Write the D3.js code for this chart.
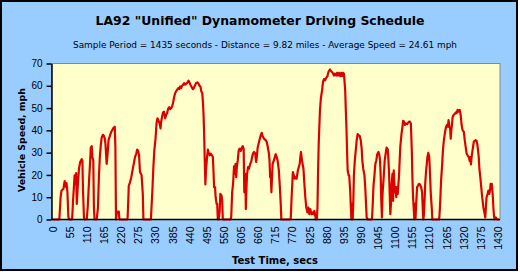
<!DOCTYPE html>
<html><head><meta charset="utf-8">
<script src="https://cdn.jsdelivr.net/npm/d3@7/dist/d3.min.js"></script>
<style>body{margin:0;background:#fff;overflow:hidden}</style>
</head><body><svg id="c" width="520" height="272"></svg>
<script>
const times = [0,22,26,29,35,39,42,45,48,51,54,63,66,71,74,76,78,81,85,89,94,96,98,101,103,110,113,117,121,123,126,128,131,133,135,142,146,149,152,155,158,162,165,168,170,174,177,180,184,189,195,200,202,204,207,213,215,241,243,245,249,253,256,259,262,265,269,272,275,278,281,286,290,292,316,318,321,324,327,331,334,337,340,344,347,349,352,355,358,362,365,368,371,375,378,381,384,387,391,394,397,400,404,407,410,413,416,420,423,426,429,432,437,440,443,447,451,454,457,461,466,469,472,475,478,481,483,485,487,489,491,493,496,499,502,505,508,512,515,517,519,522,524,527,529,531,534,537,539,543,545,547,571,574,577,580,583,585,588,590,592,595,598,601,605,608,611,614,616,619,621,623,625,628,631,635,638,641,644,647,651,654,656,659,662,666,669,672,675,679,682,685,688,691,695,697,699,701,703,705,707,711,714,717,720,723,727,730,733,735,765,768,772,775,778,781,784,788,791,794,796,798,800,803,806,809,812,815,819,822,825,828,832,835,838,841,844,846,849,851,853,855,857,859,862,866,869,872,875,879,883,887,891,896,900,904,907,911,914,917,920,924,927,930,933,936,940,942,944,946,948,951,953,956,958,960,962,964,966,968,971,974,977,980,983,987,990,993,995,998,1002,1005,1007,1009,1012,1026,1028,1031,1034,1037,1040,1043,1047,1050,1052,1054,1056,1058,1060,1063,1065,1067,1070,1073,1077,1079,1081,1083,1085,1087,1089,1092,1094,1096,1098,1100,1102,1104,1106,1109,1111,1113,1115,1117,1119,1121,1124,1126,1129,1132,1135,1139,1142,1145,1148,1151,1154,1156,1158,1160,1162,1164,1166,1168,1171,1174,1177,1180,1184,1187,1189,1191,1193,1195,1197,1200,1202,1204,1207,1210,1212,1215,1218,1220,1242,1245,1248,1251,1254,1257,1261,1264,1267,1270,1272,1275,1277,1279,1281,1283,1285,1288,1292,1295,1298,1301,1304,1308,1311,1314,1317,1321,1324,1327,1330,1333,1337,1340,1342,1344,1346,1349,1353,1356,1359,1362,1365,1369,1371,1374,1377,1380,1384,1387,1390,1392,1394,1396,1400,1403,1405,1407,1409,1411,1414,1416,1418,1420,1424,1428,1435];
const speeds = [0,0,10,13,13.7,17.2,14.8,16.3,12.2,1,0,0,8.4,19.8,16,20.8,7,14.5,22.8,25.8,27.1,26.5,13,1,0,0,5.4,16.3,26.5,32.3,32.9,28,26.5,5.4,0,0,5.4,19,28,33.3,36.8,38,37.6,36.3,34,25,29.6,35.6,37.4,39.4,40.9,41.6,32.6,0,3.6,3.6,0,0,7,15.2,16.7,19,21.3,23.5,25.8,28,29.6,31.4,30.8,28.8,21.3,20,11.5,0,0,5.4,13.7,23.5,31,36.3,43.1,45.4,44.6,43.1,40.9,43.9,46.2,48,48.4,45.4,46.9,47.7,49.5,50.4,49.5,49.9,50.7,52.2,55.2,56.7,57.5,58.2,59,58.5,59.7,59,60,60.5,61.2,60.5,60.9,61.2,62.3,61.5,60.5,59.4,58.5,59,60,61.2,61.5,60.9,60,59.7,57.5,56.7,52.9,47.7,38.6,26.5,15.7,22,27.3,31.4,29.6,28.8,29.6,28.8,28,22,14.5,14.5,10,7,7,0,0,4,11.5,10.7,8.4,0,0,1,12.2,16,23.8,20.5,25,19,23.5,26.5,31,31.8,30.8,32.3,32.9,31.8,12.2,20.5,4.7,14.5,20.5,23.5,22.8,25,25.8,28,29.6,30.3,29.6,25.8,28,32.3,34.1,36.3,37.9,38.9,37.4,36.3,35.9,35.6,34.8,32.9,29.6,26.5,19,20.5,12.2,19,25,26.5,28,29.3,28,26.5,22,15.2,7,0,0,10,21.3,19.8,18.3,19,18.3,22,23.5,25,28,30.3,28,25,22.8,16,10,5.4,3.2,5.4,2.4,4.7,2.4,3.2,2.4,3.9,1.7,0,0,5.4,22,34.1,41.6,49,54.4,58.2,62,63,62.4,63.5,64.3,66.5,67.3,66.4,65.8,64.6,65.5,64.6,65.8,64.6,65.8,64.3,65.8,64.3,65.8,65.5,58.2,49.2,41.6,31,22,19.8,19.8,13,6.2,0,7,0,7,19.8,26.5,31,35.6,38.3,37.9,37.4,35.6,31.8,26.5,22.8,19.8,13,7,1,0,0,5.4,15.2,19.8,25,26.5,29.3,30.3,28.8,26.5,19.8,8.4,0.9,11.5,17.5,22,26.5,29.6,32.3,31.4,26.5,20.5,11.5,2.4,7,15.2,20.5,8.4,22,16,12.2,14.5,10,14.5,11.5,16,19.8,26.5,32.6,35.6,38.6,41.6,44.3,43.9,42.4,43.1,42.8,43.4,43.9,43.9,43.1,31,18.3,10,5.4,0,7,0.5,7,14.5,15.2,16,15.7,14.5,12.2,5.4,0,2.4,8.4,16,22,24.7,28,29.9,28,22,11.5,5.4,0,0,7,17.5,23.5,31,35.6,39.4,41.6,42.4,41.6,44.6,41.6,40.9,36.3,40.1,42.4,45.9,46.9,47.4,48,47.7,49.2,48.4,49.2,46.9,42.4,40.1,39.4,35.6,32.6,29.6,28.8,28,26.2,28,24.7,28,31,34.8,35.3,35.6,35.3,33.3,28,22.8,19,14.5,10,5.4,3.2,0.9,5.4,10,10.7,13,11.5,13,16,13.7,16,10.7,5.4,1.7,0,0.9,0,0];
const yTicks = [0,10,20,30,40,50,60,70];
const xTicks = [0,55,110,165,220,275,330,385,440,495,550,605,660,715,770,825,880,935,990,1045,1100,1155,1210,1265,1320,1375,1430];
const titleText = 'LA92 "Unified" Dynamometer Driving Schedule';
const subtitleText = 'Sample Period = 1435 seconds - Distance = 9.82 miles - Average Speed = 24.61 mph';
const xTitle = 'Test Time, secs';
const yTitle = 'Vehicle Speed, mph';

const svg = d3.select('#c');
svg.append('rect').attr('x',1).attr('y',1).attr('width',516).attr('height',269)
  .attr('fill','#99CCFF').attr('stroke','#000').attr('stroke-width',2);

const L=51.5, R=500, T=63.5, B=219.5;
const x = d3.scaleLinear().domain([0,1435]).range([52.5,499.3]);
const y = d3.scaleLinear().domain([0,70]).range([B,T]);

svg.append('rect').attr('x',L).attr('y',T).attr('width',R-L).attr('height',B-T)
  .attr('fill','#FFFFCC').attr('stroke','#888').attr('stroke-width',1);

const data = times.map((t,i)=>({t, v:speeds[i]}));
svg.append('path').datum(data)
  .attr('fill','none').attr('stroke','#DD0000').attr('stroke-width',2.2)
  .attr('stroke-linejoin','round')
  .attr('d', d3.line().x(d=>x(d.t)).y(d=>y(d.v)));

const ya = svg.append('g').attr('transform',`translate(${L},0)`)
  .call(d3.axisLeft(y).tickValues(yTicks).tickSize(5).tickSizeOuter(0).tickPadding(4));
ya.select('.domain').attr('stroke','#000').attr('stroke-width',1.5);
ya.selectAll('.tick line').attr('stroke','#000').attr('stroke-width',1.5);
ya.selectAll('text').attr('font-family','Liberation Sans, Arial, sans-serif').attr('font-size',10).attr('fill','#000');

const xa = svg.append('g').attr('transform',`translate(0,${B})`)
  .call(d3.axisBottom(x).tickValues(xTicks).tickSize(0).tickSizeOuter(0).tickFormat(d3.format('d')));
xa.select('.domain').attr('stroke','#000').attr('stroke-width',1.5)
  .attr('d',`M${L},0H${R}`);
xa.selectAll('text').attr('font-family','Liberation Sans, Arial, sans-serif').attr('font-size',10.5).attr('fill','#000')
  .attr('transform','rotate(-90)').attr('text-anchor','end').attr('x',-7).attr('y',0).attr('dy','0.35em');

function fitText(sel, target){
  const n = sel.node(); const fs = parseFloat(sel.attr('font-size'));
  const w = n.getComputedTextLength();
  sel.attr('font-size', (fs*target/w).toFixed(2));
}
const t1 = svg.append('text').attr('x',260).attr('y',25).attr('text-anchor','middle')
  .attr('font-family','DejaVu Sans, sans-serif').attr('font-weight','bold').attr('font-size',14).text(titleText);
fitText(t1, 329);
const t2 = svg.append('text').attr('x',265).attr('y',48).attr('text-anchor','middle')
  .attr('font-family','DejaVu Sans, sans-serif').attr('font-size',10).text(subtitleText);
fitText(t2, 384);
const t3 = svg.append('text').attr('x',275).attr('y',264).attr('text-anchor','middle')
  .attr('font-family','DejaVu Sans, sans-serif').attr('font-weight','bold').attr('font-size',11).text(xTitle);
fitText(t3, 86);
const t4 = svg.append('text').attr('transform','translate(25,140) rotate(-90)').attr('text-anchor','middle')
  .attr('font-family','DejaVu Sans, sans-serif').attr('font-weight','bold').attr('font-size',11).text(yTitle);
fitText(t4, 104);
</script></body></html>
